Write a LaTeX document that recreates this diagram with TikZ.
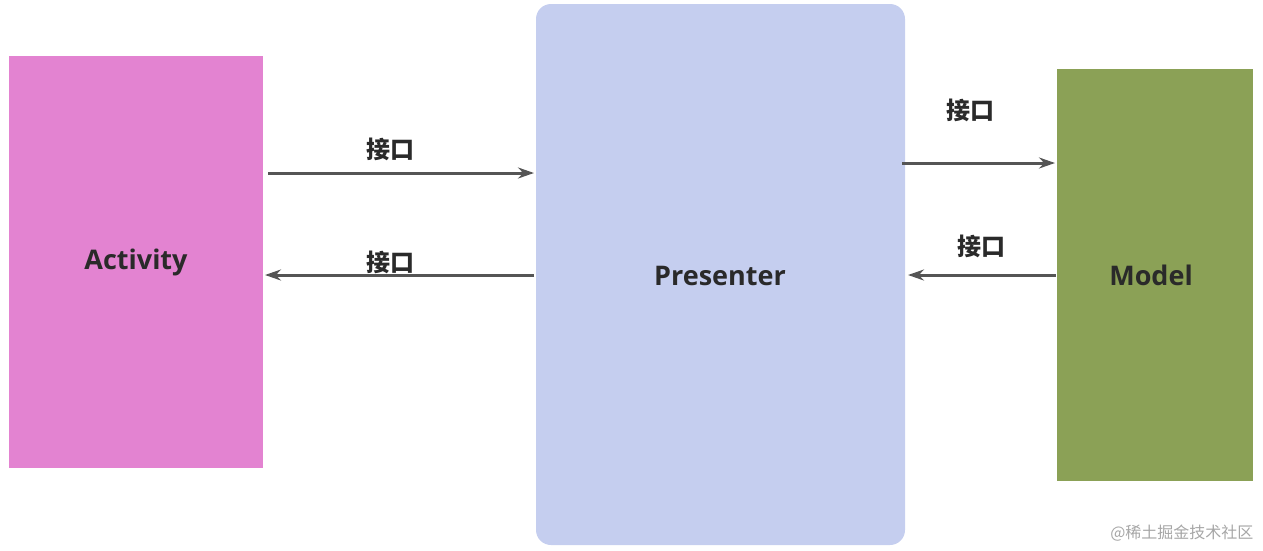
\documentclass[tikz,border=0pt]{standalone}
\usepackage{fontspec}
\setmainfont{Open Sans}
\newfontfamily\cjk{Noto Sans CJK SC}
\usetikzlibrary{arrows.meta}
\definecolor{actc}{HTML}{E383D1}
\definecolor{prec}{HTML}{C5CEEF}
\definecolor{modc}{HTML}{8BA156}
\definecolor{arrc}{HTML}{555555}
\definecolor{txtc}{HTML}{2A2A2A}
\begin{document}
\begin{tikzpicture}[x=1pt,y=-1pt,
  box/.style={draw=none,inner sep=0pt,font=\bfseries\fontsize{27}{30}\selectfont,text=txtc},
  conn/.style={draw=arrc,line width=3pt,-{Stealth[length=16pt,width=11pt]}},
  lbl/.style={font=\cjk\bfseries\fontsize{24}{26}\selectfont,text=txtc}]
\useasboundingbox (0,0) rectangle (1263,550);
\fill[actc] (9,56) rectangle (263,468);
\node[box] (act) at (136,262) {Activity};
\fill[prec,rounded corners=15pt] (536,4) rectangle (905,545);
\node[box] (pre) at (720,276) {Presenter};
\fill[modc] (1057,69) rectangle (1253,481);
\node[box] (mod) at (1151,275) {Model};
\coordinate (a1) at (268,173); \coordinate (p1) at (534,173);
\coordinate (p2) at (534,275); \coordinate (a2) at (265,275);
\coordinate (p3) at (902,163); \coordinate (m1) at (1055,163);
\coordinate (m2) at (1056,275); \coordinate (p4) at (908,275);
\draw[conn] (a1) -- (p1);
\draw[conn] (p2) -- (a2);
\draw[conn] (p3) -- (m1);
\draw[conn] (m2) -- (p4);
\node[lbl] (l1) at (390,149) {接口};
\node[lbl] (l2) at (390,262) {接口};
\node[lbl] (l3) at (970,110) {接口};
\node[lbl] (l4) at (981,246) {接口};
\node[font=\cjk\fontsize{16}{18}\selectfont,text=black!35,anchor=east] (wm) at (1257,533) {@稀土掘金技术社区};
\end{tikzpicture}
\end{document}
